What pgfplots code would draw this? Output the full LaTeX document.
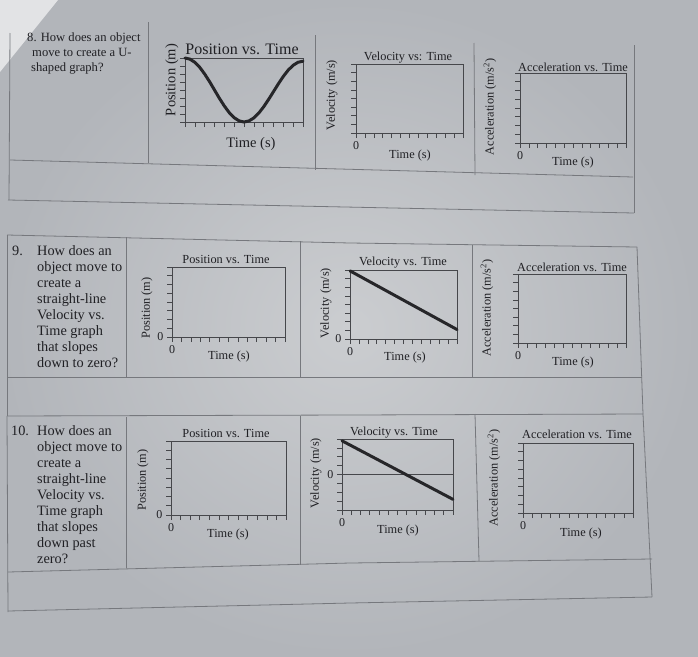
\documentclass[border=0pt]{standalone}
\usepackage{fontspec}
\setmainfont{Liberation Serif}
\usepackage{pgfplots}
\pgfplotsset{compat=1.18}
\definecolor{paper}{RGB}{178,181,186}
\definecolor{paperlight}{RGB}{203,205,208}
\definecolor{curl}{RGB}{226,227,229}
\definecolor{tbl}{RGB}{118,120,125}
\definecolor{frame}{RGB}{70,71,75}
\definecolor{ink}{RGB}{32,32,36}
\definecolor{curvec}{RGB}{38,38,41}
\pgfplotsset{
  mini/.style={scale only axis, clip=false,
    xmin=0, xmax=12, ymin=0, ymax=8,
    xtick={0,...,12}, ytick={0,...,8},
    xticklabels={}, yticklabels={},
    tick pos=left, tick align=outside, major tick length=5pt,
    axis line style={draw=frame, line width=0.8pt},
    every tick/.style={draw=frame, line width=0.6pt},
    tick label style={font=\fontsize{12}{12}\selectfont, text=ink},
    label style={font=\fontsize{12.3}{13}\selectfont, text=ink},
    title style={font=\fontsize{12.3}{13}\selectfont, text=ink},
    xlabel={Time (s)}},
  tpos/.style 2 args={title style={at={(axis description cs:0.5,1)}, anchor=center, inner sep=0pt, xshift=#1, yshift=#2}},
  xpos/.style 2 args={xlabel style={at={(axis description cs:0.5,0)}, anchor=center, inner sep=0pt, xshift=#1, yshift=#2}},
  ypos/.style 2 args={ylabel style={at={([xshift=#1,yshift=#2]axis description cs:0,0.5)}, anchor=center, inner sep=0pt}},
  curve/.style={curvec, line width=3pt, line cap=round, no markers},
}
\begin{document}
\begin{tikzpicture}[x=1pt,y=-1pt]
\shade[inner color=paperlight, outer color=paper] (0,0) rectangle (698,656);
\path[use as bounding box] (0,0) rectangle (698,656);
\fill[curl] (0,0) -- (58,0) -- (0,72) -- cycle;
\begin{scope}[tbl, line width=0.8pt]
% row 8
\draw (10,33) -- (9,200);
\draw (10,160) -- (633,177);
\draw (8,200) -- (634,213);
\draw (148,22) -- (148,163);
\draw (315,35) -- (315,170);
\draw (474,43) -- (475,175);
\draw (634,45) -- (634,213);
% row 9
\draw (7,235) -- (350,243) -- (637,247);
\draw (7,235) -- (7,416);
\draw (126,237) -- (126,377);
\draw (300,241) -- (300,377);
\draw (472,245) -- (472,377);
\draw (637,247) -- (643,414);
\draw (7,377) -- (642,377);
\draw (7,416) -- (350,415) -- (643,414);
% row 10
\draw (7,416) -- (8,612);
\draw (126,417) -- (126,568);
\draw (300,416) -- (300,565);
\draw (475,414) -- (479,561);
\draw (643,414) -- (652,597);
\draw (8,572) -- (350,563) -- (652,559);
\draw (8,611) -- (350,603) -- (652,597);
\end{scope}
% question texts
\begin{scope}[every node/.style={anchor=base west, inner sep=0pt, text=ink, font=\fontsize{12.6}{15}\selectfont}]
\node at (27,41) {8. How does an object};
\node at (32,56) {move to create a U-};
\node at (31,71) {shaped graph?};
\end{scope}
\begin{scope}[every node/.style={anchor=base west, inner sep=0pt, text=ink, font=\fontsize{14.3}{16}\selectfont}]
\node at (12,255) {9.};
\node at (37,255) {How does an};
\node at (37,271) {object move to};
\node at (37,287) {create a};
\node at (37,303) {straight-line};
\node at (37,319) {Velocity vs.};
\node at (37,335) {Time graph};
\node at (37,351) {that slopes};
\node at (37,367) {down to zero?};
\node at (11,435) {10.};
\node at (37,435) {How does an};
\node at (37,451) {object move to};
\node at (37,467) {create a};
\node at (37,483) {straight-line};
\node at (37,499) {Velocity vs.};
\node at (37,515) {Time graph};
\node at (37,531) {that slopes};
\node at (37,547) {down past};
\node at (37,563) {zero?};
\end{scope}
% ---------- row 8 ----------
\begin{axis}[mini, at={(185pt,-122pt)}, anchor=south west, width=118pt, height=64pt,
  title={Position vs. Time}, ylabel={Position (m)},
  tpos={-2pt}{3pt}, xpos={7pt}{-22pt}, ypos={-13pt}{10pt},
  title style={font=\fontsize{16}{16}\selectfont}, label style={font=\fontsize{14.5}{15}\selectfont}]
\addplot[curve] coordinates {(0,8)(0.5,7.86)(1,7.46)(1.5,6.83)(2,6.0)(2.5,5.04)(3,4.0)(3.5,2.96)(4,2.0)(4.5,1.17)(5,0.54)(5.5,0.14)(6,0.0)(6.5,0.13)(7,0.51)(7.5,1.11)(8,1.9)(8.5,2.82)(9,3.8)(9.5,4.78)(10,5.7)(10.5,6.49)(11,7.09)(11.5,7.47)(12,7.6)};
\end{axis}
\begin{axis}[mini, at={(356pt,-133pt)}, anchor=south west, width=107pt, height=69pt,
  title={Velocity vs: Time}, ylabel={Velocity (m/s)}, xticklabels={0},
  tpos={-1.5pt}{0.5pt}, xpos={0.5pt}{-23pt}, ypos={-24pt}{3.5pt}]
\end{axis}
\begin{axis}[mini, at={(520pt,-143pt)}, anchor=south west, width=106pt, height=70pt,
  title={Acceleration vs. Time}, ylabel={Acceleration (m/s\textsuperscript{2})}, xticklabels={0},
  tpos={0pt}{0pt}, xpos={0pt}{-20pt}, ypos={-30pt}{1pt}]
\end{axis}
% ---------- row 9 ----------
\begin{axis}[mini, at={(172pt,-337pt)}, anchor=south west, width=113pt, height=70pt,
  title={Position vs. Time}, ylabel={Position (m)}, xticklabels={0}, yticklabels={0},
  tpos={-2.5pt}{1.5pt}, xpos={0.5pt}{-20pt}, ypos={-25pt}{-6pt}]
\end{axis}
\begin{axis}[mini, at={(350pt,-339pt)}, anchor=south west, width=107pt, height=69pt,
  title={Velocity vs. Time}, ylabel={Velocity (m/s)}, xticklabels={0}, yticklabels={0},
  tpos={-0.5pt}{1.5pt}, xpos={1.5pt}{-19pt}, ypos={-24pt}{1.5pt}]
\addplot[curve] coordinates {(0,7.9)(12,1.1)};
\end{axis}
\begin{axis}[mini, at={(518pt,-343pt)}, anchor=south west, width=108pt, height=69pt,
  title={Acceleration vs. Time}, ylabel={Acceleration (m/s\textsuperscript{2})}, xticklabels={0},
  tpos={0pt}{0.5pt}, xpos={1pt}{-20pt}, ypos={-31pt}{0.5pt}]
\end{axis}
% ---------- row 10 ----------
\begin{axis}[mini, at={(171pt,-515pt)}, anchor=south west, width=115pt, height=74pt,
  title={Position vs. Time}, ylabel={Position (m)}, xticklabels={0}, yticklabels={0},
  tpos={-2.5pt}{1.5pt}, xpos={-0.5pt}{-20pt}, ypos={-28pt}{-2pt}]
\end{axis}
\begin{axis}[mini, at={(342pt,-510pt)}, anchor=south west, width=111pt, height=71pt,
  ymin=-4, ymax=4, ytick={-4,...,4},
  extra y ticks={0}, extra y tick labels={0},
  extra y tick style={grid=major, major grid style={draw=frame, line width=0.6pt}},
  title={Velocity vs. Time}, ylabel={Velocity (m/s)}, xticklabels={0},
  tpos={-3.5pt}{0.5pt}, xpos={0.5pt}{-21pt}, ypos={-26pt}{1.5pt}]
\addplot[curve] coordinates {(0,3.8)(12,-2.8)};
\end{axis}
\begin{axis}[mini, at={(523pt,-513pt)}, anchor=south west, width=110pt, height=70pt,
  title={Acceleration vs. Time}, ylabel={Acceleration (m/s\textsuperscript{2})}, xticklabels={0},
  tpos={-1pt}{2.5pt}, xpos={3pt}{-21pt}, ypos={-29pt}{0pt}]
\end{axis}
\end{tikzpicture}
\end{document}
